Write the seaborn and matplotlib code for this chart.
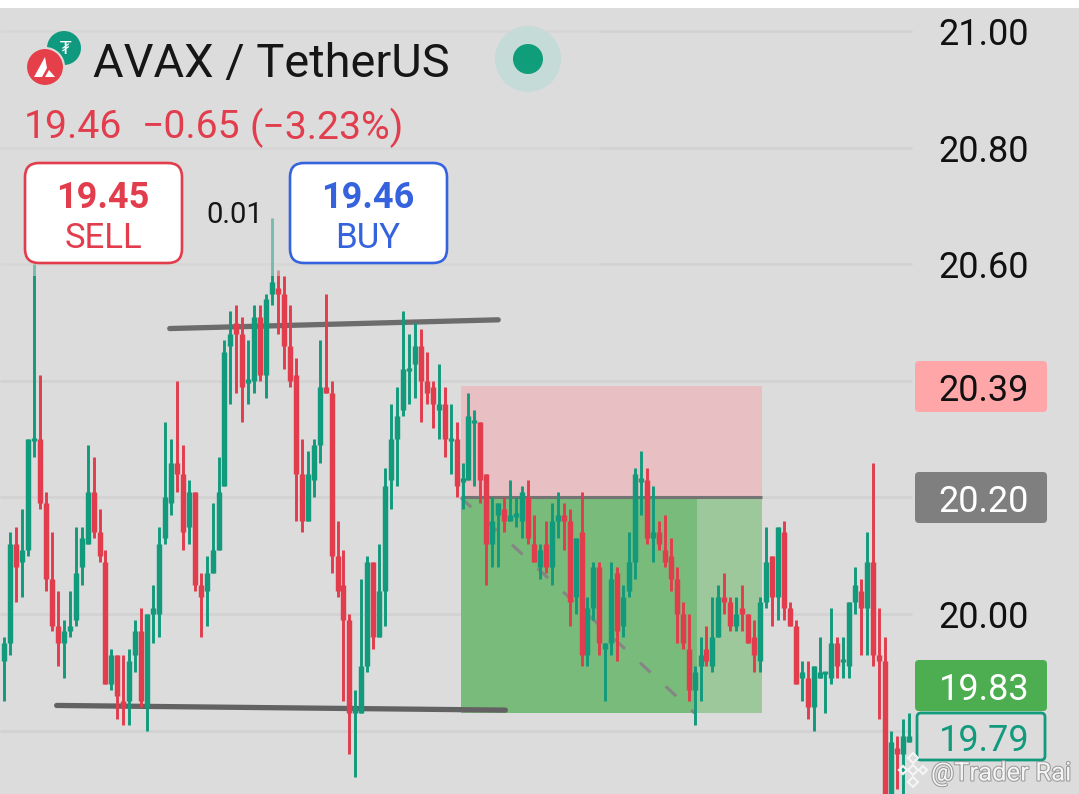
import numpy as np
import pandas as pd
import matplotlib
matplotlib.use("Agg")
import matplotlib.pyplot as plt
import matplotlib.patheffects as pe
from matplotlib.patches import Circle, FancyBboxPatch, Polygon, Rectangle
import seaborn as sns

# candles, 0.01 tick
opens = [19.92,19.95,20.12,20.09,20.11,20.30,20.30,20.19,20.06,19.98,
         19.95,19.97,19.99,20.08,20.12,20.21,20.14,20.09,19.88,19.93,
         19.85,19.85,19.93,19.97,19.84,20.00,20.00,20.13,20.19,20.26,
         20.24,20.15,20.21,20.05,20.04,20.07,20.11,20.22,20.46,20.50,
         20.48,20.40,20.40,20.51,20.41,20.55,20.56,20.55,20.46,20.41,
         20.24,20.16,20.23,20.29,20.39,20.38,20.10,20.05,19.99,19.83,
         19.83,19.91,20.09,19.96,20.04,20.23,20.30,20.35,20.42,20.43,
         20.46,20.40,20.39,20.35,20.36,20.30,20.30,20.23,20.23,20.33,
         20.33,20.24,20.12,20.17,20.18,20.16,20.17,20.16,20.20,20.12,
         20.08,20.12,20.08,20.16,20.17,20.16,20.03,20.14,19.93,20.01,
         20.08,19.94,19.95,20.07,19.98,20.04,20.09,20.23,20.23,20.13,
         20.14,20.11,20.10,20.06,20.00,19.94,19.87,19.91,19.94,19.91,
         19.96,20.03,20.02,19.98,20.01,20.00,19.96,19.92,20.02,20.10,
         20.03,20.14,20.01,19.98,19.89,19.89,19.84,19.89,19.90,19.89,
         19.95,19.92,19.91,20.02,20.04,20.01,20.09,19.93,19.92,19.60,
         19.77,19.76,19.78]
closes = [19.95,20.12,20.08,20.11,20.30,20.30,20.19,20.06,19.98,19.95,
          19.97,19.98,20.07,20.13,20.21,20.14,20.10,19.88,19.93,19.86,
          19.84,19.92,19.97,19.85,20.00,20.01,20.12,20.20,20.26,20.24,
          20.14,20.21,20.05,20.03,20.07,20.11,20.21,20.45,20.48,20.48,
          20.39,20.40,20.51,20.41,20.54,20.57,20.55,20.46,20.40,20.24,
          20.16,20.24,20.29,20.39,20.38,20.10,20.04,19.99,19.83,19.84,
          19.91,20.09,19.96,20.04,20.22,20.30,20.34,20.42,20.42,20.46,
          20.40,20.38,20.36,20.36,20.30,20.30,20.22,20.23,20.34,20.33,
          20.23,20.12,20.16,20.19,20.16,20.17,20.17,20.21,20.13,20.09,
          20.11,20.08,20.16,20.17,20.16,20.02,20.13,19.93,20.01,20.08,
          19.95,19.95,20.06,19.97,20.03,20.09,20.24,20.23,20.13,20.14,
          20.12,20.09,20.06,20.00,19.95,19.87,19.90,19.93,19.92,19.96,
          20.03,20.02,19.98,20.00,20.00,19.95,19.93,20.02,20.09,20.03,
          20.15,20.01,19.98,19.88,19.90,19.84,19.91,19.90,19.90,19.95,
          19.91,19.92,20.02,20.05,20.01,20.09,19.93,19.92,19.60,19.78,
          19.76,19.79,19.79]
highs = [19.96,20.14,20.15,20.18,20.30,20.60,20.41,20.21,20.14,20.04,
         19.99,20.04,20.15,20.15,20.29,20.27,20.18,20.11,19.94,19.93,
         19.93,19.94,19.99,20.01,20.00,20.05,20.15,20.33,20.30,20.40,
         20.29,20.23,20.21,20.07,20.10,20.19,20.27,20.47,20.52,20.53,
         20.51,20.47,20.53,20.53,20.55,20.68,20.59,20.58,20.53,20.44,
         20.30,20.28,20.30,20.47,20.55,20.40,20.16,20.11,20.00,19.87,
         20.06,20.10,20.09,20.12,20.25,20.36,20.39,20.52,20.48,20.50,
         20.49,20.45,20.40,20.43,20.39,20.36,20.33,20.26,20.38,20.35,
         20.33,20.24,20.20,20.19,20.20,20.23,20.20,20.22,20.23,20.17,
         20.12,20.16,20.19,20.21,20.19,20.18,20.13,20.21,20.03,20.09,
         20.09,19.95,20.09,20.08,20.05,20.14,20.25,20.28,20.25,20.22,
         20.16,20.17,20.13,20.08,20.02,20.00,19.91,19.96,19.98,20.03,
         20.05,20.07,20.03,20.03,20.05,20.00,19.99,20.03,20.15,20.10,
         20.15,20.16,20.02,19.99,19.92,19.92,19.91,19.96,19.90,20.01,
         19.96,19.96,20.02,20.08,20.06,20.14,20.26,20.01,19.96,19.80,
         19.79,19.82,19.83]
lows = [19.85,19.93,20.02,20.03,20.10,20.27,20.18,20.04,19.97,19.91,
        19.89,19.96,19.98,20.05,20.12,20.13,20.09,19.88,19.87,19.82,
        19.81,19.81,19.90,19.84,19.80,19.95,19.96,20.12,20.17,20.21,
        20.11,20.12,20.04,19.96,19.98,20.07,20.11,20.22,20.36,20.38,
        20.33,20.36,20.38,20.40,20.37,20.53,20.48,20.42,20.39,20.16,
        20.14,20.16,20.20,20.26,20.38,20.07,20.03,19.85,19.76,19.72,
        19.83,19.90,19.94,19.96,19.98,20.18,20.22,20.34,20.36,20.37,
        20.33,20.36,20.32,20.30,20.27,20.24,20.20,20.18,20.23,20.22,
        20.19,20.05,20.08,20.08,20.14,20.16,20.15,20.13,20.12,20.09,
        20.06,20.07,20.05,20.13,20.11,19.98,20.00,19.91,19.91,19.99,
        19.93,19.85,19.93,19.92,19.96,20.03,20.06,20.17,20.12,20.09,
        20.11,20.08,20.04,19.95,19.94,19.85,19.81,19.85,19.91,19.90,
        19.96,20.00,19.97,19.97,19.97,19.95,19.90,19.90,20.01,19.98,
        19.99,19.99,19.98,19.88,19.85,19.82,19.80,19.89,19.83,19.88,
        19.89,19.89,19.89,20.00,19.93,19.93,19.91,19.82,19.60,19.60,
        19.70,19.60,19.78]

grid_prices = [21.0, 20.8, 20.6, 20.4, 20.2, 20.0, 19.8]
tick_prices = [21.0, 20.8, 20.6, 20.0]
tick_labels = ["21.00", "20.80", "20.60", "20.00"]

# short position tool and the two hand drawn lines
entry_price = 20.20
stop_price = 20.392
target_price = 19.83
upper_line = ([27.8, 83.0], [20.49, 20.505])
lower_line = ([8.8, 84.2], [19.843, 19.835])

GREEN = "#129a7d"
RED = "#e23d4d"
BG = "#dcdcdc"

sns.set_theme(style="white", rc={"axes.facecolor": BG, "figure.facecolor": BG})
plt.rcParams["font.family"] = ["Roboto", "DejaVu Sans"]

idx = np.arange(len(opens))
df = pd.DataFrame({"i": idx, "o": opens, "c": closes, "h": highs, "l": lows})
df["side"] = np.where(df.c >= df.o, "up", "down")

# doji still show a thin block
mid = (df.o + df.c) / 2
half = ((df.c - df.o).abs() / 2).clip(lower=0.0028)
df["top"] = mid + half
df["bot"] = mid - half

wicks = df.melt(id_vars=["i", "side"], value_vars=["h", "l"], value_name="price")
bodies = df.melt(id_vars=["i", "side"], value_vars=["top", "bot"], value_name="price")

fig = plt.figure(figsize=(10.79, 7.94), dpi=100)
ax = fig.add_axes([0, 0, 1, 1])

# 4.3 + 5.95*i pixels across, 582.5 pixels per price unit
ax.set_xlim(-0.723, 180.6)
ax.set_ylim(19.691, 21.054)

ax.hlines(grid_prices, -0.723, 152.6, color="#d2d2d2", lw=2, zorder=1)

ax.fill_between([76.7, 127.35], entry_price, stop_price, color="#e8bfc2", lw=0, zorder=2)
ax.fill_between([76.7, 116.45], target_price, entry_price, color="#79bb7a", lw=0, zorder=2)
ax.fill_between([116.45, 127.35], target_price, entry_price, color="#9cc89c", lw=0, zorder=2)
ax.plot([76.7, 127.35], [entry_price, entry_price], color="#747474", lw=2.2, zorder=3,
        solid_capstyle="butt")
ax.plot([76.7, 116.0], [entry_price, target_price], color="#858585", lw=2.2, zorder=3,
        dashes=(4.7, 6.7))

ax.plot(*upper_line, color="#6c6c6c", lw=3.8, zorder=3, solid_capstyle="round")
ax.plot(*lower_line, color="#626262", lw=3.8, zorder=3, solid_capstyle="round")

palette = {"up": GREEN, "down": RED}
sns.lineplot(data=wicks, x="i", y="price", units="i", hue="side", palette=palette,
             estimator=None, legend=False, lw=2.1, ax=ax, zorder=4, solid_capstyle="butt")
sns.lineplot(data=bodies, x="i", y="price", units="i", hue="side", palette=palette,
             estimator=None, legend=False, lw=3.9, ax=ax, zorder=4, solid_capstyle="butt")

ax.set_xlabel("")
ax.set_ylabel("")
ax.set_xticks([])
ax.yaxis.tick_right()
ax.set_yticks(tick_prices, labels=tick_labels)
ax.tick_params(axis="y", length=0, pad=-101, labelsize=26, labelcolor="#111111")
sns.despine(ax=ax, left=True, bottom=True)
for s in ax.spines.values():
    s.set_visible(False)

# overlay in pixels for the app chrome
ov = fig.add_axes([0, 0, 1, 1], facecolor="none")
ov.set_xlim(0, 1079)
ov.set_ylim(794, 0)
ov.axis("off")

ov.add_patch(Rectangle((0, 8), 600, 268, color=BG, alpha=0.5, lw=0))
ov.add_patch(Rectangle((0, 0), 1079, 8, color="white", lw=0))


def box(x0, y0, x1, y1, fc, ec="none", lw=0, r=6):
    ov.add_patch(FancyBboxPatch((x0 + r, y0 + r), x1 - x0 - 2 * r, y1 - y0 - 2 * r,
                                boxstyle=f"round,pad={r},rounding_size={r}",
                                fc=fc, ec=ec, lw=lw))


def label(x, y, s, size, color, weight="normal", ha="center", **kw):
    return ov.text(x, y, s, fontsize=size, color=color, fontweight=weight,
                   ha=ha, va="center_baseline", **kw)


# header
ov.add_patch(Circle((64, 48), 17, fc="#0f9a80", ec="none"))
label(66, 47, "₮", 13, "white", family=["DejaVu Sans"])
ov.add_patch(Circle((45, 67), 19, fc="#e5404a", ec=BG, lw=1.5))
ov.add_patch(Polygon([[45, 57], [34, 77], [42, 77], [47, 68]], fc="white", ec="none"))
ov.add_patch(Polygon([[49, 70], [45, 77], [55, 77]], fc="white", ec="none"))
label(93, 60, "AVAX / TetherUS", 33.8, "#161616", ha="left")
ov.add_patch(Circle((528, 59), 33, fc="#c5dbd7", ec="none"))
ov.add_patch(Circle((528, 59), 15, fc="#0f9d7a", ec="none"))
label(24, 123, "19.46", 28.2, RED, ha="left")
label(142, 123, "−0.65", 28.2, RED, ha="left")
label(249, 123, "(−3.23%)", 28.2, RED, ha="left")

# sell / buy
box(25, 163, 182, 263, "white", RED, 1.9, 14)
label(103, 194, "19.45", 26, RED, "bold")
label(103, 235, "SELL", 25, RED)
box(290, 163, 447, 263, "white", "#3563dd", 1.9, 14)
label(368, 194, "19.46", 26, "#3563dd", "bold")
label(368, 235, "BUY", 25, "#3563dd")
label(235, 212, "0.01", 21, "#161616")

# price scale tags
box(915, 361, 1047, 412, "#ffa6a9", r=4)
label(984, 387, "20.39", 26, "#111111")
box(915, 472, 1047, 523, "#7f7f7f", r=4)
label(984, 498, "20.20", 26, "white")
box(915, 660, 1047, 711, "#4cae50", r=4)
label(984, 686, "19.83", 26, "white")
box(917, 713, 1045, 760, BG, GREEN, 2.0, 4)
label(984, 737, "19.79", 26, GREEN)

# watermark
halo = [pe.withStroke(linewidth=1.5, foreground="#9a9a9a")]
wm = label(931, 771, "@Trader Rai", 18.5, "#f4f4f4", ha="left", path_effects=halo)
for cx, cy, rad in [(913, 758, 5), (903, 770, 4), (923, 770, 4), (913, 770, 5), (913, 782, 5)]:
    ov.add_patch(Polygon([[cx, cy - rad], [cx + rad, cy], [cx, cy + rad], [cx - rad, cy]],
                         fc="none", ec="#f4f4f4", lw=1.6))

fig.savefig("out.png", dpi=100)
